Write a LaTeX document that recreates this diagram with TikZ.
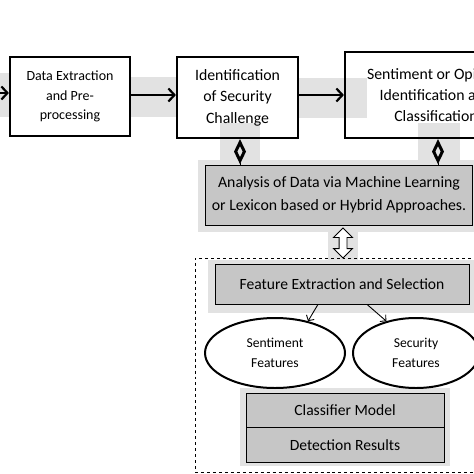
\documentclass[tikz,border=0pt]{standalone}
\usepackage{fontspec}
\setmainfont{Carlito}
\usetikzlibrary{arrows.meta,shapes.geometric,shapes.arrows}
\definecolor{boxgray}{RGB}{198,198,198}
\definecolor{shadegray}{RGB}{226,226,226}
\tikzset{
  stagebox/.style={draw, line width=2.2pt, align=center, inner sep=0pt},
  greybox/.style={draw, fill=boxgray, line width=0.8pt, align=center, inner sep=0pt},
  featoval/.style={draw, ellipse, fill=white, line width=2pt, align=center, inner sep=0pt},
  flow/.style={line width=2.2pt, -{Straight Barb[length=6bp,width=13bp]}},
  split/.style={line width=0.9pt, -{Straight Barb[length=4bp,width=9bp]}},
  link/.style={line width=0.8pt, {Diamond[open,length=25bp,width=12bp,line width=3bp]}-},
  shade/.style={fill=shadegray, draw=none},
}

\begin{document}
\begin{tikzpicture}[x=1bp, y=-1bp]
    \useasboundingbox (0,0) rectangle (474,474);
    \clip (0,0) rectangle (474,474);

    % soft shadows behind the links
    \fill[shade] (0,73) rectangle (10,117);
    \fill[shade] (130,77) rectangle (177,117);
    \fill[shade] (298,78) rectangle (367,118);
    \fill[shade] (220,123) rectangle (260,167);
    \fill[shade] (418,123) rectangle (460,167);
    \fill[shade] (198,160) rectangle (480,232);
    \fill[shade] (328,225) rectangle (358,262);
    \fill[shade] (208,260) rectangle (480,313);
    \fill[shade] (240,388) rectangle (450,466);

    % top row
    \coordinate (inflow) at (-4,93);
    \node[stagebox, minimum width=120bp, minimum height=79bp,
          font=\fontsize{14bp}{19.5bp}\selectfont] (extract) at (70,96.5)
        {Data Extraction\\and Pre-\\processing};
    \node[stagebox, minimum width=121bp, minimum height=81bp,
          font=\fontsize{15.8bp}{21.5bp}\selectfont] (challenge) at (237.5,97.5)
        {Identification\\of Security\\Challenge};
    \node[stagebox, minimum width=182bp, minimum height=86bp,
          font=\fontsize{15.8bp}{21bp}\selectfont] (opinion) at (436,95)
        {Sentiment or Opinion\\Identification and\\Classification};

    \draw[flow] (inflow) -- (inflow -| extract.west);
    \draw[flow] (extract.east |- 0,95) -- (challenge.west |- 0,95);
    \draw[flow] (challenge.east |- 0,95) -- (opinion.west |- 0,95);

    % analysis
    \node[greybox, minimum width=267bp, minimum height=60bp,
          font=\fontsize{15.8bp}{23bp}\selectfont] (analysis) at (339,195)
        {Analysis of Data via Machine Learning\\or Lexicon based or Hybrid Approaches.};

    \draw[link] (challenge.south -| 240,0) -- (analysis.north -| 240,0);
    \draw[link] (opinion.south -| 438,0) -- (analysis.north -| 438,0);

    % feature block
    \node[draw, dashed, line width=0.8pt, minimum width=300bp, minimum height=214bp] (module) at (345,365) {};
    \node[double arrow, draw, fill=white, line width=0.9pt, rotate=90, inner sep=3.5bp,
          double arrow head extend=5.5bp, minimum height=30bp] (bridge) at (343,243) {};

    \node[greybox, minimum width=254bp, minimum height=40bp,
          font=\fontsize{15.6bp}{18bp}\selectfont] (feature) at (342,284)
        {Feature Extraction and Selection};
    \node[featoval, minimum width=140bp, minimum height=70bp,
          font=\fontsize{13.6bp}{20bp}\selectfont] (sentfeat) at (275,353)
        {Sentiment\\Features};
    \node[featoval, minimum width=126bp, minimum height=70bp,
          font=\fontsize{13.6bp}{20bp}\selectfont] (secfeat) at (416,353)
        {Security\\Features};

    \draw[split] ([xshift=-24bp]feature.south) -- (sentfeat.44);
    \draw[split] ([xshift=25bp]feature.south) -- (secfeat.133);

    \node[greybox, minimum width=198bp, minimum height=34bp,
          font=\fontsize{15.6bp}{18bp}\selectfont] (classifier) at (345,410)
        {Classifier Model};
    \node[greybox, minimum width=198bp, minimum height=35bp,
          font=\fontsize{15.6bp}{18bp}\selectfont, anchor=north] (results) at (classifier.south)
        {Detection Results};
\end{tikzpicture}
\end{document}
